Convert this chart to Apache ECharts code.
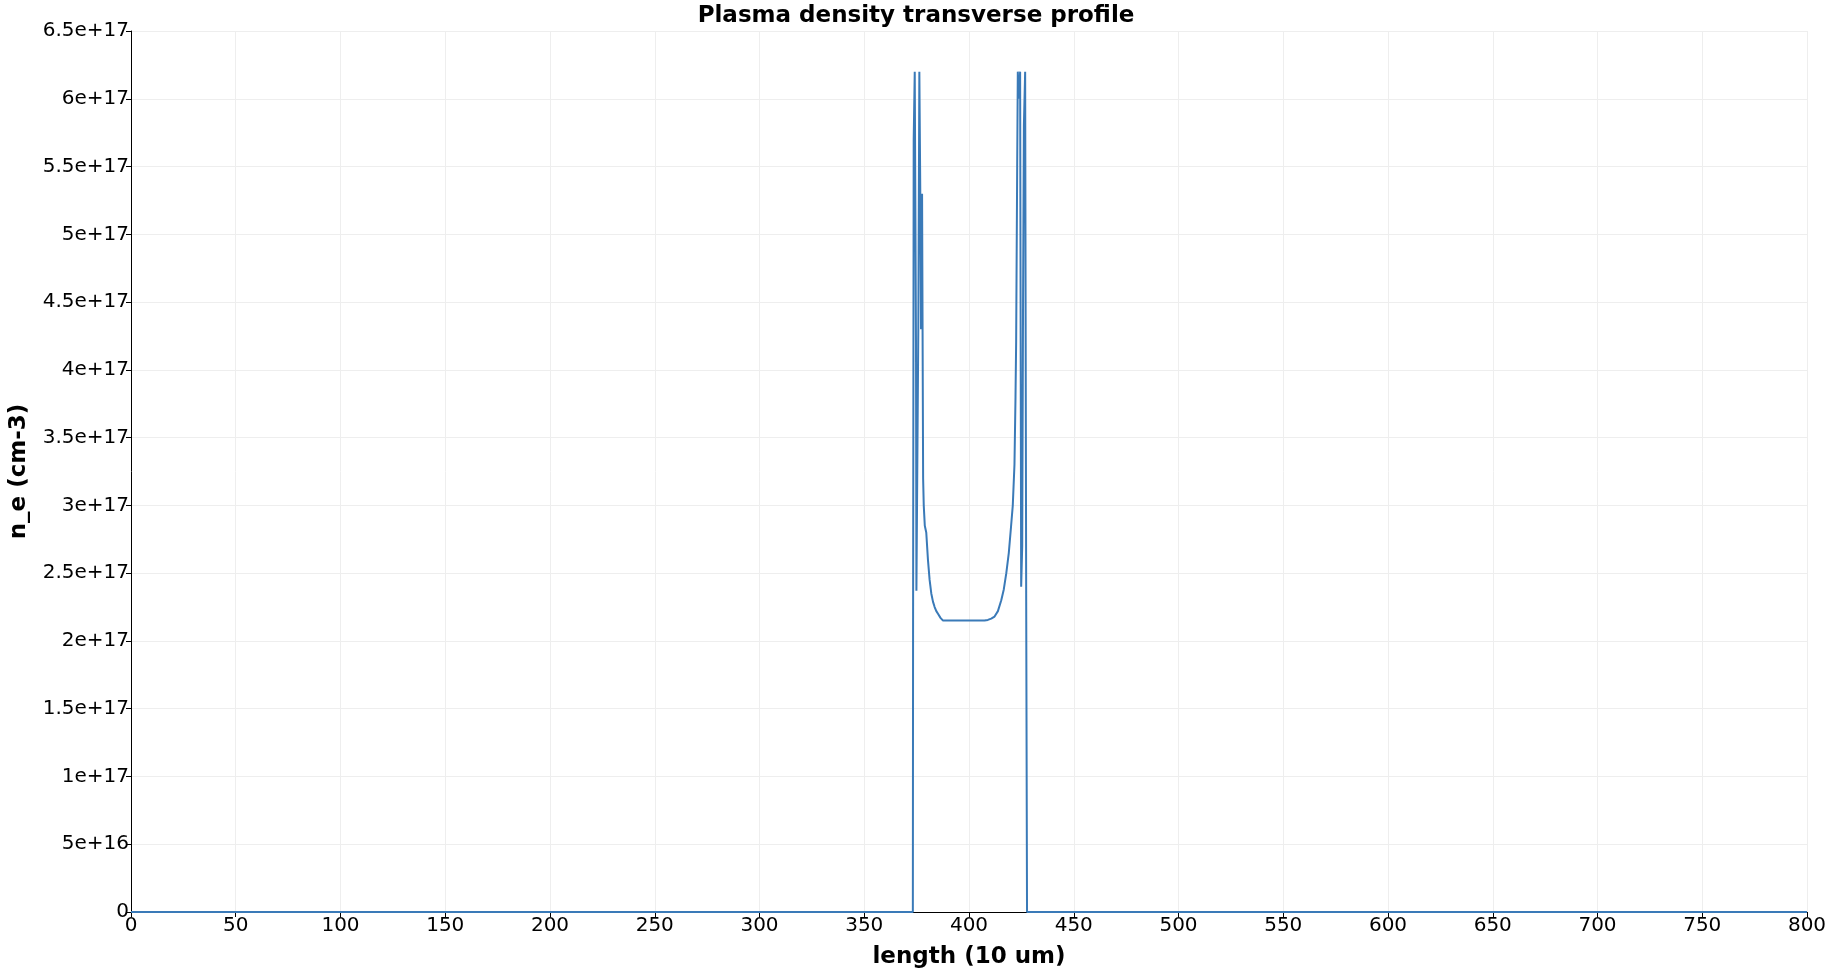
<!DOCTYPE html>
<html><head><meta charset="utf-8">
<script src="https://cdn.jsdelivr.net/npm/echarts@6/dist/echarts.min.js"></script>
<style>html,body{margin:0;padding:0;background:#fff}#c{width:1832px;height:974px}</style>
</head><body><div id="c"></div>
<script>
const xs = [0, 373.2, 373.3, 373.4, 373.6, 374.1, 374.6, 374.7, 374.9, 375.7, 375.8, 376.3, 376.8, 377.1, 377.6, 378.1, 378.4, 378.9, 379.6, 380.4, 381.2, 382.0, 382.8, 383.6, 384.4, 385.2, 386.4, 387.6, 390, 400, 407.4, 409.0, 410.6, 412.2, 413.8, 415.4, 416.6, 417.8, 419.0, 420.1, 420.9, 421.7, 422.2, 422.5, 423.0, 423.3, 423.6, 423.8, 424.4, 424.8, 424.9, 425.4, 425.8, 426.2, 426.8, 427.2, 427.3, 427.6, 427.7, 800];
const ys = [0, 0, 2.05e17, 2.05e17, 5.7e17, 6.2e17, 6.2e17, 4.2e17, 2.37e17, 2.37e17, 4.3e17, 6.2e17, 5.2e17, 4.3e17, 5.3e17, 3.2e17, 3.0e17, 2.85e17, 2.8e17, 2.6e17, 2.45e17, 2.35e17, 2.29e17, 2.25e17, 2.22e17, 2.2e17, 2.17e17, 2.15e17, 2.15e17, 2.15e17, 2.15e17, 2.155e17, 2.165e17, 2.18e17, 2.22e17, 2.3e17, 2.38e17, 2.5e17, 2.65e17, 2.85e17, 3.0e17, 3.3e17, 3.8e17, 4.2e17, 5.5e17, 6.2e17, 6.2e17, 6.0e17, 6.2e17, 6.2e17, 2.4e17, 2.7e17, 4.5e17, 5.8e17, 6.2e17, 6.2e17, 2.3e17, 2.3e17, 0, 0];
const xTicksInterval = 50;
const yTicksInterval = 5e16;
const data = xs.map((x, i) => [x, ys[i]]);
const chart = echarts.init(document.getElementById('c'));
const font = 'DejaVu Sans';
chart.setOption({
  animation: false,
  title: {text: 'Plasma density transverse profile', left: 'center', top: 0,
    textStyle: {fontFamily: font, fontWeight: 'bold', fontSize: 23, color: '#000'}},
  grid: {left: 128, right: 25, top: 31, bottom: 57},
  xAxis: {type: 'value', min: 0, max: 800, interval: xTicksInterval,
    name: 'length (10 um)', nameLocation: 'middle', nameGap: 34,
    nameTextStyle: {fontFamily: font, fontWeight: 'bold', fontSize: 23, color: '#000'},
    axisLine: {lineStyle: {color: '#000'}}, axisTick: {show: true, length: 5, lineStyle: {color: '#000'}},
    axisLabel: {fontFamily: font, fontSize: 20, color: '#000', margin: 4},
    splitLine: {show: true, lineStyle: {color: '#eee'}}},
  yAxis: {type: 'value', min: 0, max: 6.5e17, interval: yTicksInterval,
    name: 'n_e (cm-3)', nameLocation: 'middle', nameGap: 100,
    nameTextStyle: {fontFamily: font, fontWeight: 'bold', fontSize: 23, color: '#000'},
    axisLine: {show: true, lineStyle: {color: '#000'}}, axisTick: {show: true, length: 5, lineStyle: {color: '#000'}},
    axisLabel: {fontFamily: font, fontSize: 20, color: '#000', margin: 2,
      formatter: v => v === 0 ? '0' : v.toExponential().replace(/\.0+e/, 'e')},
    splitLine: {show: true, lineStyle: {color: '#eee'}}},
  series: [{type: 'line', data: data, showSymbol: false,
    lineStyle: {color: '#3a7ab8', width: 2}}]
});
</script></body></html>
